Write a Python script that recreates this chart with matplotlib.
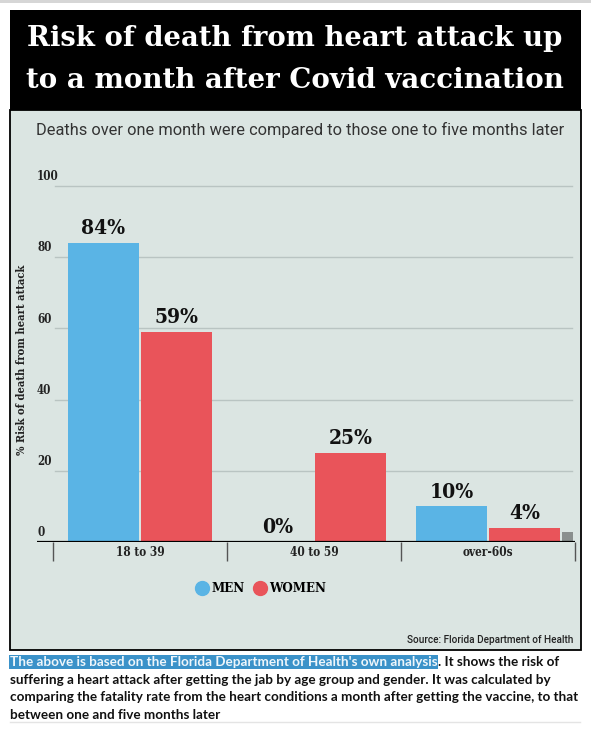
import matplotlib
matplotlib.use("Agg")
import matplotlib.pyplot as plt
from matplotlib.patches import Rectangle
from matplotlib.lines import Line2D
import matplotlib.transforms as mtransforms

# data
age_groups = ["18 to 39", "40 to 59", "over-60s"]
men = [84, 0, 10]
women = [59, 25, 4]
other = [0, 0, 2.8]   # small grey stub at the far right
y_ticks = [0, 20, 40, 60, 80, 100]

title_lines = ["Risk of death from heart attack up", "to a month after Covid vaccination"]
subtitle = "Deaths over one month were compared to those one to five months later"
y_label = "% Risk of death from heart attack"
source = "Source: Florida Department of Health"
caption_hl = "The above is based on the Florida Department of Health's own analysis"
caption_lines = [
    ". It shows the risk of",
    "suffering a heart attack after getting the jab by age group and gender. It was calculated by",
    "comparing the fatality rate from the heart conditions a month after getting the vaccine, to that",
    "between one and five months later",
]

BLUE = "#5ab4e5"
RED = "#e9545a"
GREY = "#8a8f8e"
PANEL = "#dbe5e2"
GRID = "#b9c4c2"

W, H = 591, 734
SERIF = dict(family="DejaVu Serif", weight="bold", stretch="condensed")


def fx(px):
    return px / W


def fy(py):
    return 1 - py / H


fig = plt.figure(figsize=(W / 100, H / 100), dpi=100)
fig.patch.set_facecolor("white")
renderer = fig.canvas.get_renderer()


def fit_width(txt, target_px):
    w = txt.get_window_extent(renderer).width
    txt.set_fontsize(txt.get_fontsize() * target_px / w)


# frame pieces, kept behind the axes
fig.add_artist(Rectangle((0, fy(3)), 1, 3 / H, transform=fig.transFigure,
                         fc="#d6d6d6", ec="none", zorder=-5))
fig.add_artist(Rectangle((fx(10), fy(650)), fx(571), (650 - 110) / H,
                         transform=fig.transFigure, fc=PANEL, ec="black",
                         lw=1.3, zorder=-5))
fig.add_artist(Rectangle((fx(10), fy(110)), fx(571), 100 / H,
                         transform=fig.transFigure, fc="black", ec="none",
                         zorder=-4))
fig.add_artist(Line2D([fx(10), fx(580)], [fy(722), fy(722)],
                      transform=fig.transFigure, color="#e4e4e4", lw=1,
                      zorder=-5))

# title
for i, line in enumerate(title_lines):
    t = fig.text(fx(295), fy(39 + i * 42), line, color="white", ha="center",
                 va="center", fontsize=20, family="DejaVu Serif", weight="heavy")
    fit_width(t, 536)

t = fig.text(fx(300), fy(130), subtitle, family="Roboto", color="#333333",
             ha="center", va="center", fontsize=11)
fit_width(t, 526)

# chart axes: left edge at px 37, zero line at px 542
ax = fig.add_axes([fx(37), fy(542), 538 / W, (542 - 168) / H])
ax.set_xlim(-0.592, 2.5)
ax.set_ylim(0, 105)
ax.axis("off")

for v in y_ticks[1:]:
    ax.axhline(v, xmin=18 / 538, xmax=535 / 538, color=GRID, lw=1, zorder=0)
trans = mtransforms.blended_transform_factory(ax.transAxes, ax.transData)
for v in y_ticks:
    ax.annotate(str(v), (0, v), xycoords=trans, xytext=(0, 2),
                textcoords="offset points", ha="left", va="bottom",
                fontsize=8.3, color="#222222", **SERIF)

x = list(range(len(age_groups)))
bw = 0.41
ax.bar([i - 0.21 for i in x], men, bw, color=BLUE, zorder=2)
ax.bar([i + 0.21 for i in x], women, bw, color=RED, zorder=2)
ax.bar([i + 0.455 for i in x], other, 0.065, color=GREY, zorder=1)

for i in x:
    for off, vals in ((-0.21, men), (0.21, women)):
        ax.annotate(f"{vals[i]}%", (i + off, vals[i]), xytext=(0, 3.5),
                    textcoords="offset points", ha="center", va="bottom",
                    fontsize=15, color="#111111", **SERIF)
    ax.annotate(age_groups[i], (i, 0), xytext=(0, -3),
                textcoords="offset points", ha="center", va="top",
                fontsize=8.5, color="#222222", **SERIF)

ax.axhline(0, color="black", lw=1.6, zorder=3)
ax.vlines([i - 0.5 for i in x] + [x[-1] + 0.5], -5.3, 0, color="#555555",
          lw=1, clip_on=False)

fig.text(fx(22), fy(360), y_label, rotation=90, ha="center", va="center",
         fontsize=8, color="#222222", **SERIF)

handles = [Line2D([], [], marker="o", ls="", ms=10, color=BLUE, label="MEN"),
           Line2D([], [], marker="o", ls="", ms=10, color=RED, label="WOMEN")]
fig.legend(handles=handles, ncol=2, frameon=False, loc="center",
           bbox_to_anchor=(fx(261), fy(589)), handletextpad=0.25,
           columnspacing=0.6, handlelength=1.0,
           prop=dict(size=9.5, **SERIF))

fig.text(fx(573), fy(640), source, family="Roboto", weight="medium",
         fontsize=7.2, color="#222222", ha="right", va="center")

# caption under the panel
cap_props = dict(family="Lato", weight="bold", fontsize=10, ha="left",
                 va="center")
probe = fig.text(fx(10), fy(697), caption_lines[2], color="#111111", **cap_props)
fit_width(probe, 568)
size = probe.get_fontsize()
probe.remove()
cap_props["fontsize"] = size

hl = fig.text(fx(10), fy(662), caption_hl, color="#eef6fb",
              bbox=dict(boxstyle="square,pad=0.05", fc="#3b92c9", ec="none"),
              **cap_props)
end = hl.get_window_extent(renderer).x1
fig.text(end / W, fy(662), caption_lines[0], color="#111111", **cap_props)
for k, line in enumerate(caption_lines[1:]):
    fig.text(fx(10), fy(680 + k * 17.3), line, color="#111111", **cap_props)

fig.savefig("out.png", dpi=100)
